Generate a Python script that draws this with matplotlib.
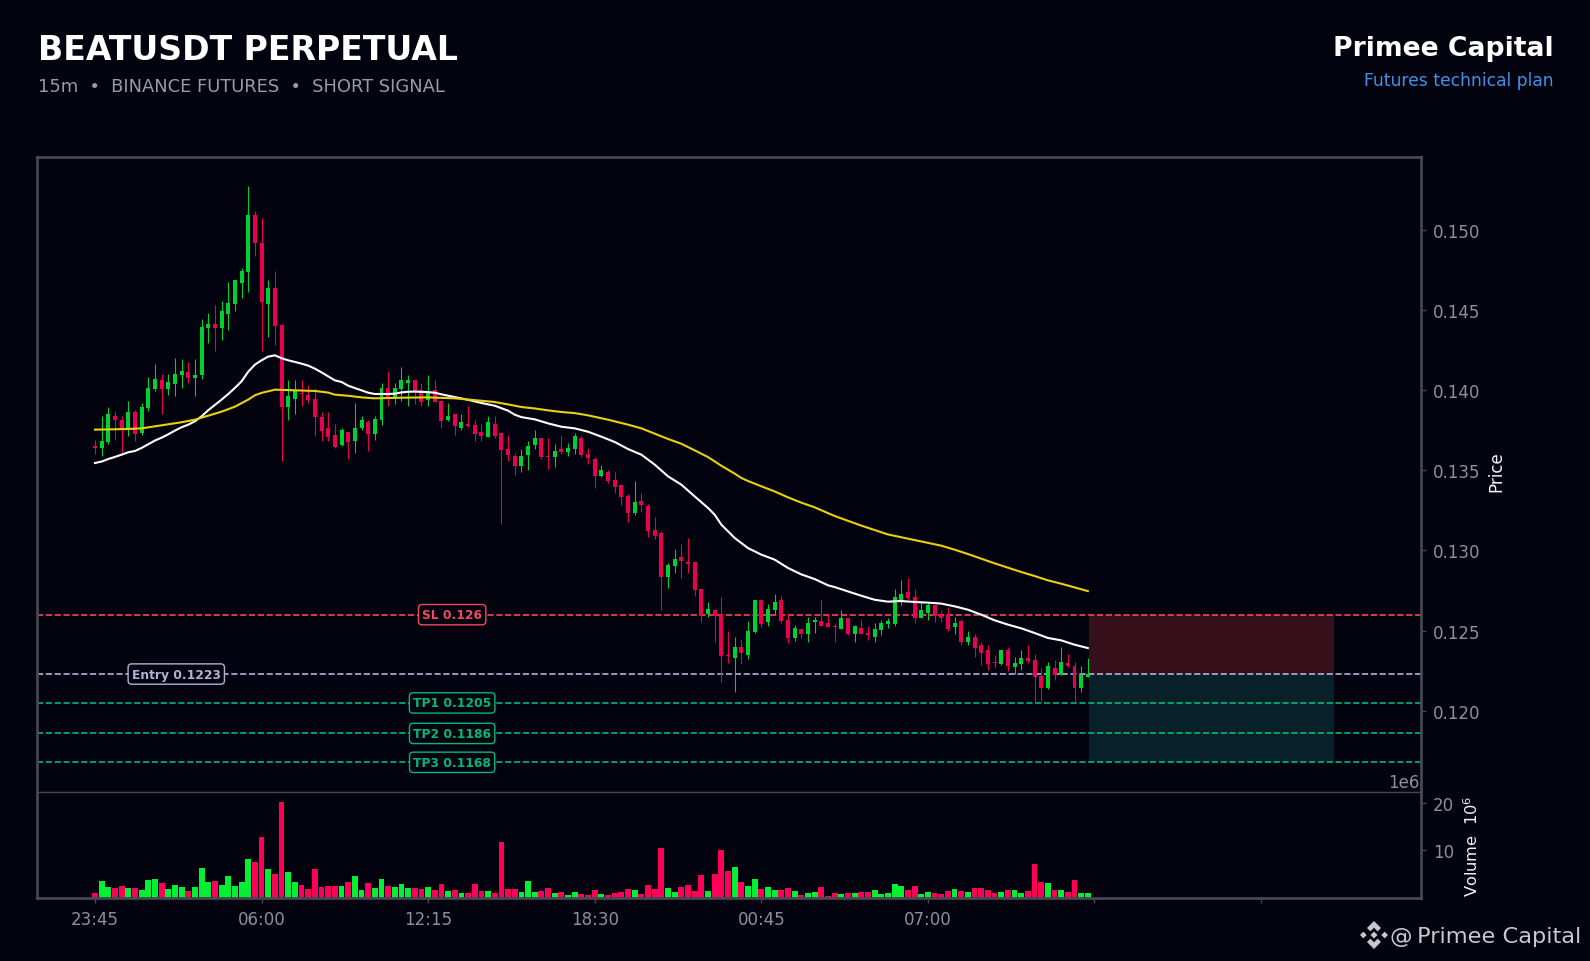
"""BEATUSDT 15m futures plan chart: candles, two moving averages, volume and trade levels."""
import matplotlib
matplotlib.use("Agg")
import matplotlib.pyplot as plt
from matplotlib.patches import Polygon

BG = "#03020f"
FRAME = "#444853"
UP = "#00d12f"
DOWN = "#ea0050"
VOL_UP = "#00f032"
VOL_DOWN = "#ff0058"
TICK_TEXT = "#8f8f98"

# 价格单位: 0.001 USDT
opens = [
    136.53, 136.37, 136.78, 138.40, 138.15, 137.53, 138.65, 137.34, 138.90, 140.09,
    140.65, 140.09, 140.40, 140.96, 141.14, 140.77, 140.96, 143.89, 144.14, 143.89,
    144.76, 145.38, 146.69, 147.37, 150.93, 149.18, 145.38, 146.38, 144.07, 138.96,
    139.46, 139.84, 139.71, 139.46, 138.34, 137.66, 137.22, 136.59, 137.40, 136.84,
    137.65, 138.02, 137.28, 138.15, 140.14, 139.56, 140.06, 140.45, 140.64, 140.02,
    139.39, 140.02, 139.33, 138.15, 138.52, 137.65, 137.90, 137.84, 137.40, 137.09,
    137.90, 137.34, 136.34, 135.91, 135.28, 135.97, 136.59, 137.03, 135.91, 135.84,
    136.34, 136.15, 136.34, 137.03, 136.03, 135.72, 134.66, 134.91, 134.41, 134.10,
    133.41, 132.36, 133.10, 132.79, 131.30, 131.11, 128.37, 129.05, 129.61, 129.30,
    129.30, 127.62, 126.06, 126.31, 126.00, 123.51, 123.32, 124.01, 123.51, 124.94,
    126.94, 125.56, 126.31, 126.94, 125.69, 124.57, 125.13, 124.82, 125.56, 125.63,
    125.50, 125.31, 125.13, 125.81, 124.82, 125.19, 124.88, 124.63, 125.07, 125.44,
    125.44, 126.93, 127.43, 127.12, 125.81, 126.12, 126.62, 126.00, 126.00, 125.25,
    125.63, 124.32, 124.63, 124.13, 123.82, 123.07, 122.95, 123.82, 122.76, 122.95,
    123.32, 123.20, 122.20, 121.45, 122.70, 122.26, 123.01, 122.82, 121.45, 122.14,
]
highs = [
    136.87, 138.36, 138.94, 138.69, 138.36, 139.30, 138.74, 139.19, 140.81, 141.62,
    141.00, 141.00, 142.00, 141.93, 141.75, 141.93, 144.43, 144.80, 145.32, 145.55,
    146.73, 146.88, 147.60, 152.73, 151.18, 150.72, 146.86, 147.42, 144.14, 140.65,
    140.65, 140.65, 140.33, 140.13, 138.65, 138.65, 137.88, 137.63, 137.40, 139.19,
    138.40, 138.11, 138.40, 140.43, 141.18, 140.43, 141.43, 140.93, 140.64, 140.43,
    140.93, 140.62, 139.33, 139.19, 138.52, 138.50, 139.02, 138.15, 137.90, 138.40,
    138.40, 137.40, 137.21, 136.07, 136.34, 136.80, 137.53, 137.03, 137.03, 136.65,
    137.21, 136.69, 137.32, 137.15, 136.38, 135.82, 135.33, 135.03, 134.89, 134.10,
    133.54, 134.35, 133.58, 132.92, 132.09, 131.23, 129.22, 130.09, 130.40, 130.78,
    129.30, 127.66, 126.79, 126.31, 127.12, 125.00, 124.61, 124.51, 125.63, 126.94,
    126.94, 126.69, 127.31, 127.18, 126.10, 125.36, 125.13, 125.88, 125.88, 126.93,
    126.00, 125.48, 126.31, 125.81, 125.38, 125.69, 125.31, 125.48, 125.69, 125.79,
    127.60, 128.16, 128.31, 127.60, 126.77, 126.73, 126.62, 126.31, 126.50, 125.83,
    125.73, 124.98, 124.82, 124.30, 124.11, 123.51, 123.82, 123.99, 123.36, 123.82,
    124.13, 123.57, 122.68, 123.05, 123.20, 123.99, 123.57, 123.05, 122.78, 123.30,
]
lows = [
    136.01, 135.87, 136.64, 136.87, 136.01, 137.12, 136.80, 137.18, 138.67, 139.94,
    138.49, 139.67, 139.61, 140.11, 140.42, 139.61, 140.67, 142.91, 142.41, 143.10,
    143.72, 144.90, 145.71, 146.09, 148.37, 142.45, 143.28, 142.79, 135.56, 138.11,
    138.49, 138.98, 139.17, 137.12, 136.80, 136.80, 136.37, 136.49, 135.70, 136.07,
    137.48, 136.18, 136.86, 137.80, 138.98, 139.10, 139.29, 138.98, 139.10, 138.98,
    138.98, 139.27, 137.61, 138.09, 137.17, 137.53, 137.67, 136.80, 136.80, 137.09,
    136.99, 131.67, 135.55, 134.68, 134.87, 134.99, 136.32, 135.68, 135.05, 135.18,
    135.99, 135.86, 135.99, 135.80, 135.37, 133.87, 134.56, 134.18, 133.56, 132.85,
    131.75, 132.23, 132.38, 130.86, 130.69, 126.31, 127.64, 128.62, 128.26, 128.62,
    127.14, 125.56, 125.83, 124.28, 121.83, 123.01, 121.16, 122.95, 123.26, 124.84,
    125.25, 125.32, 126.06, 125.46, 124.26, 124.34, 124.57, 124.28, 124.84, 125.31,
    125.25, 124.28, 125.13, 124.75, 124.32, 124.82, 124.44, 124.28, 124.75, 125.15,
    125.31, 126.58, 126.93, 125.46, 125.81, 125.65, 125.56, 125.56, 124.96, 124.77,
    124.13, 124.13, 123.34, 122.84, 122.53, 122.66, 122.84, 122.47, 122.32, 122.53,
    123.01, 120.50, 120.64, 121.35, 121.95, 122.26, 122.76, 120.54, 121.16, 122.14,
]
closes = [
    136.37, 136.85, 138.53, 138.11, 137.66, 138.65, 137.28, 138.96, 140.15, 140.71,
    140.09, 140.52, 141.02, 141.21, 140.77, 140.96, 143.95, 144.14, 143.89, 144.95,
    145.44, 146.88, 147.44, 150.93, 149.18, 145.51, 146.38, 144.01, 138.96, 139.65,
    139.96, 139.77, 139.40, 138.34, 137.47, 137.09, 136.47, 137.53, 136.78, 137.65,
    138.15, 137.28, 138.21, 140.14, 139.56, 140.14, 140.64, 140.64, 139.89, 139.27,
    139.93, 139.27, 138.09, 138.40, 137.77, 138.02, 137.77, 137.28, 137.15, 138.02,
    137.15, 136.28, 135.97, 135.28, 135.91, 136.53, 137.03, 135.84, 135.84, 136.22,
    136.15, 136.40, 137.15, 135.97, 135.78, 134.66, 135.03, 134.35, 133.98, 133.35,
    132.36, 133.04, 132.85, 131.23, 130.92, 128.37, 129.12, 129.49, 129.37, 129.18,
    127.56, 126.00, 126.37, 125.94, 123.45, 123.45, 124.01, 123.63, 125.00, 126.94,
    125.44, 126.37, 126.81, 125.63, 124.57, 125.19, 124.82, 125.50, 125.69, 125.31,
    125.25, 125.25, 125.81, 124.82, 125.31, 124.82, 124.75, 125.13, 125.50, 125.63,
    127.12, 127.31, 127.06, 125.81, 126.31, 126.62, 125.94, 125.81, 125.13, 125.50,
    124.32, 124.63, 123.94, 123.63, 122.95, 123.01, 123.82, 122.82, 123.01, 123.32,
    123.13, 122.14, 121.45, 122.82, 122.26, 123.07, 122.82, 121.45, 122.26, 122.32,
]
# 成交量单位: 百万
volumes = [
    1.05, 3.56, 2.31, 2.10, 2.52, 2.10, 2.10, 1.68, 3.77, 3.98,
    3.14, 1.89, 2.73, 2.31, 1.47, 2.31, 6.29, 3.35, 3.56, 2.73,
    4.61, 2.52, 3.35, 8.18, 7.55, 12.79, 6.08, 5.03, 20.13, 5.45,
    3.35, 2.73, 1.89, 6.08, 2.31, 2.52, 2.52, 2.52, 3.35, 4.61,
    1.68, 3.14, 2.10, 3.98, 2.52, 2.31, 2.94, 2.10, 2.10, 1.89,
    2.31, 1.68, 2.94, 1.47, 1.68, 1.05, 1.05, 2.94, 1.47, 1.47,
    1.05, 11.74, 1.89, 1.89, 1.26, 3.56, 1.26, 1.47, 2.10, 1.05,
    1.26, 0.63, 1.26, 0.84, 0.63, 1.68, 0.84, 0.63, 1.05, 1.26,
    1.89, 1.68, 0.84, 2.73, 1.89, 10.48, 2.10, 1.26, 2.31, 2.73,
    1.47, 4.82, 1.47, 5.03, 10.06, 5.66, 6.50, 3.35, 2.52, 3.98,
    1.89, 2.31, 1.68, 1.68, 2.10, 1.47, 0.63, 1.05, 1.26, 2.31,
    0.42, 1.05, 0.84, 1.05, 1.05, 1.26, 1.26, 1.68, 0.84, 1.05,
    2.94, 2.52, 1.68, 2.52, 0.84, 1.26, 1.05, 0.84, 1.47, 1.89,
    1.47, 1.26, 2.10, 2.10, 1.68, 1.05, 1.26, 1.68, 1.68, 1.05,
    1.47, 7.13, 3.35, 3.14, 1.68, 1.68, 1.26, 3.77, 1.05, 1.05,
]

fast_bars = [
    0, 1, 2, 3, 4, 5, 6, 7, 8, 9, 10, 11, 12, 13, 14, 15, 16, 17, 18, 19, 20, 21, 22, 23, 24, 25, 26, 27, 28,
    29, 30, 31, 32, 33, 34, 35, 36, 37, 38, 39, 40, 41, 42, 44, 45, 46, 47, 48, 50, 51, 52, 54, 56, 58, 60, 62,
    63, 64, 66, 68, 70, 72, 74, 76, 78, 80, 82, 84, 86, 88, 90, 92, 93, 94, 96, 98, 100, 102, 104, 106, 108,
    110, 111, 113, 115, 117, 119, 121, 123, 125, 127, 129, 131, 133, 135, 137, 139, 141, 143, 145, 147, 149,
]
fast_ma = [
    135.45, 135.54, 135.70, 135.83, 135.97, 136.12, 136.20, 136.39, 136.62, 136.85, 137.03, 137.24, 137.47,
    137.68, 137.84, 138.05, 138.36, 138.74, 139.07, 139.40, 139.75, 140.13, 140.54, 141.14, 141.58, 141.85,
    142.08, 142.16, 141.98, 141.85, 141.75, 141.64, 141.52, 141.33, 141.10, 140.85, 140.60, 140.50, 140.27,
    140.12, 139.98, 139.83, 139.75, 139.75, 139.77, 139.85, 139.89, 139.90, 139.87, 139.83, 139.73, 139.56,
    139.39, 139.19, 139.02, 138.71, 138.46, 138.31, 138.17, 137.92, 137.71, 137.61, 137.40, 137.09, 136.76,
    136.32, 135.97, 135.35, 134.62, 134.10, 133.37, 132.65, 132.23, 131.61, 130.78, 130.15, 129.74, 129.43,
    128.91, 128.51, 128.22, 127.83, 127.72, 127.45, 127.18, 126.93, 126.81, 126.85, 126.79, 126.75, 126.69,
    126.52, 126.31, 126.00, 125.65, 125.38, 125.15, 124.86, 124.55, 124.40, 124.13, 123.92,
]
slow_bars = [
    0, 5, 7, 10, 13, 15, 17, 19, 21, 23, 24, 25, 27, 30, 33, 35, 36, 38, 40, 42, 46, 50, 54, 58, 60, 62, 64, 66,
    68, 70, 72, 74, 77, 80, 82, 84, 86, 88, 90, 92, 94, 96, 97, 98, 100, 102, 104, 106, 108, 111, 115, 119,
    123, 127, 129, 131, 133, 135, 137, 139, 141, 143, 145, 147, 149,
]
slow_ma = [
    137.53, 137.57, 137.61, 137.80, 137.99, 138.15, 138.40, 138.65, 138.96, 139.40, 139.67, 139.82, 140.02,
    139.98, 139.94, 139.84, 139.71, 139.64, 139.54, 139.48, 139.52, 139.54, 139.48, 139.33, 139.25, 139.10,
    138.94, 138.85, 138.73, 138.63, 138.56, 138.42, 138.15, 137.84, 137.61, 137.28, 136.95, 136.65, 136.24,
    135.82, 135.28, 134.79, 134.52, 134.33, 134.00, 133.68, 133.31, 132.98, 132.69, 132.15, 131.55, 131.00,
    130.65, 130.30, 130.05, 129.78, 129.49, 129.20, 128.93, 128.66, 128.41, 128.14, 127.93, 127.70, 127.47,
]

time_ticks = [0, 25, 50, 75, 100, 125, 150, 175]
time_labels = ["23:45", "06:00", "12:15", "18:30", "00:45", "07:00", "", ""]
price_ticks = [120, 125, 130, 135, 140, 145, 150]
volume_ticks = [10, 20]

sl_price = 126.0
entry_price = 122.3
tp_prices = [120.5, 118.6, 116.8]
tp_labels = ["TP1 0.1205", "TP2 0.1186", "TP3 0.1168"]

W, H = 1590, 962
fig = plt.figure(figsize=(W / 100, H / 100), dpi=100, facecolor=BG)


def px_axes(left, top, right, bottom):
    return fig.add_axes([left / W, 1 - bottom / H, (right - left) / W, (bottom - top) / H])


ax = px_axes(37, 157.5, 1421, 793)
ax_vol = px_axes(37, 793, 1421, 899)
xlim = (-8.7, 199)

bars = list(range(len(opens)))
body_low = [min(o, c) for o, c in zip(opens, closes)]
body_size = [abs(o - c) for o, c in zip(opens, closes)]
rising = [c > o for o, c in zip(opens, closes)]

ax.vlines(bars, lows, highs, colors=[UP if r else DOWN for r in rising], linewidth=0.75, zorder=3)
ax.bar(bars, [max(s, 0.05) for s in body_size], bottom=body_low, width=0.6,
       color=[UP if r else DOWN for r in rising], linewidth=0, zorder=4)
ax.plot(fast_bars, fast_ma, color="#ffffff", linewidth=1.5, zorder=5)
ax.plot(slow_bars, slow_ma, color="#e8d20f", linewidth=1.5, zorder=5)

# 风险 / 盈利区域
ax.fill_between([149.25, 186], entry_price, sl_price, color="#36101a", linewidth=0, zorder=1)
ax.fill_between([149.25, 186], tp_prices[-1], entry_price, color="#072029", linewidth=0, zorder=1)

SL_COLOR = "#f04a5e"
ENTRY_COLOR = "#aeb4d6"
TP_COLOR = "#00b87c"


def level(price, text, color, at):
    ax.axhline(price, color=color, linewidth=1.2, linestyle="--", zorder=2)
    ax.text(at, price, text, color=color, fontsize=8.8, fontweight="bold", ha="center", va="center", zorder=6,
            bbox=dict(boxstyle="round,pad=0.3", facecolor=BG, edgecolor=color, linewidth=1.0))


level(sl_price, "SL 0.126", SL_COLOR, 53.6)
level(entry_price, "Entry 0.1223", ENTRY_COLOR, 12.2)
for p, label in zip(tp_prices, tp_labels):
    level(p, label, TP_COLOR, 53.6)

ax.set_xlim(xlim)
ax.set_ylim(114.95, 154.55)
ax.set_xticks([])
ax.yaxis.tick_right()
ax.set_yticks(price_ticks)
ax.set_yticklabels([f"{p / 1000:.3f}" for p in price_ticks])

ax_vol.bar(bars, volumes, width=0.88, color=[VOL_UP if r else VOL_DOWN for r in rising], linewidth=0)
ax_vol.set_xlim(xlim)
ax_vol.set_ylim(0, 22.3)
ax_vol.yaxis.tick_right()
ax_vol.set_yticks(volume_ticks)
ax_vol.set_yticklabels([str(v) for v in volume_ticks])
ax_vol.set_xticks(time_ticks)
ax_vol.set_xticklabels(time_labels)

for a in (ax, ax_vol):
    a.set_facecolor(BG)
    a.tick_params(axis="both", colors=FRAME, labelcolor=TICK_TEXT, labelsize=12, length=3.5, width=1.0, pad=5)
    for side in ("left", "right", "top", "bottom"):
        a.spines[side].set_color(FRAME)
        a.spines[side].set_linewidth(2.0)
ax.spines["bottom"].set_linewidth(0.9)
ax_vol.spines["top"].set_linewidth(0.9)

fig.text(1496 / W, 1 - 472 / H, "Price", color="#f2f2f2", fontsize=12, rotation=90, ha="center", va="center")
fig.text(1472 / W, 1 - 846 / H, "Volume  $10^{6}$", color="#f2f2f2", fontsize=11.7, rotation=90,
         ha="center", va="center")
fig.text(1419 / W, 1 - 783 / H, "1e6", color=TICK_TEXT, fontsize=12, ha="right", va="center")

fig.text(38 / W, 1 - 51 / H, "BEATUSDT PERPETUAL", color="#ffffff", fontsize=23.9, fontweight="bold",
         ha="left", va="center")
fig.text(38 / W, 1 - 87 / H, "15m  •  BINANCE FUTURES  •  SHORT SIGNAL", color="#9a9aa2", fontsize=12.9,
         ha="left", va="center")
fig.text(1554 / W, 1 - 49 / H, "Primee Capital", color="#ffffff", fontsize=19.2, fontweight="bold",
         ha="right", va="center")
fig.text(1554 / W, 1 - 81 / H, "Futures technical plan", color="#3f93e6", fontsize=12.3, ha="right", va="center")

# 右下角水印
fig.text(1581 / W, 1 - 937 / H, "Primee Capital", color="#c8c8cc", fontsize=16.2, ha="right", va="center")
fig.text(1412 / W, 1 - 937 / H, "@", color="#c8c8cc", fontsize=16.2, ha="right", va="center")
logo = px_axes(1360, 922, 1388, 950)
logo.set_xlim(-1, 1)
logo.set_ylim(-1, 1)
logo.axis("off")
LOGO_COLOR = "#c8c8cc"
logo.add_patch(Polygon([(0, 0.25), (0.25, 0), (0, -0.25), (-0.25, 0)], color=LOGO_COLOR, linewidth=0))
logo.add_patch(Polygon([(-1, 0), (-0.76, 0.24), (-0.52, 0), (-0.76, -0.24)], color=LOGO_COLOR, linewidth=0))
logo.add_patch(Polygon([(1, 0), (0.76, 0.24), (0.52, 0), (0.76, -0.24)], color=LOGO_COLOR, linewidth=0))
logo.add_patch(Polygon([(0, 1), (0.5, 0.5), (0.26, 0.26), (0, 0.52), (-0.26, 0.26), (-0.5, 0.5)],
                       color=LOGO_COLOR, linewidth=0))
logo.add_patch(Polygon([(0, -1), (0.5, -0.5), (0.26, -0.26), (0, -0.52), (-0.26, -0.26), (-0.5, -0.5)],
                       color=LOGO_COLOR, linewidth=0))

fig.savefig("out.png", dpi=100, facecolor=BG)
